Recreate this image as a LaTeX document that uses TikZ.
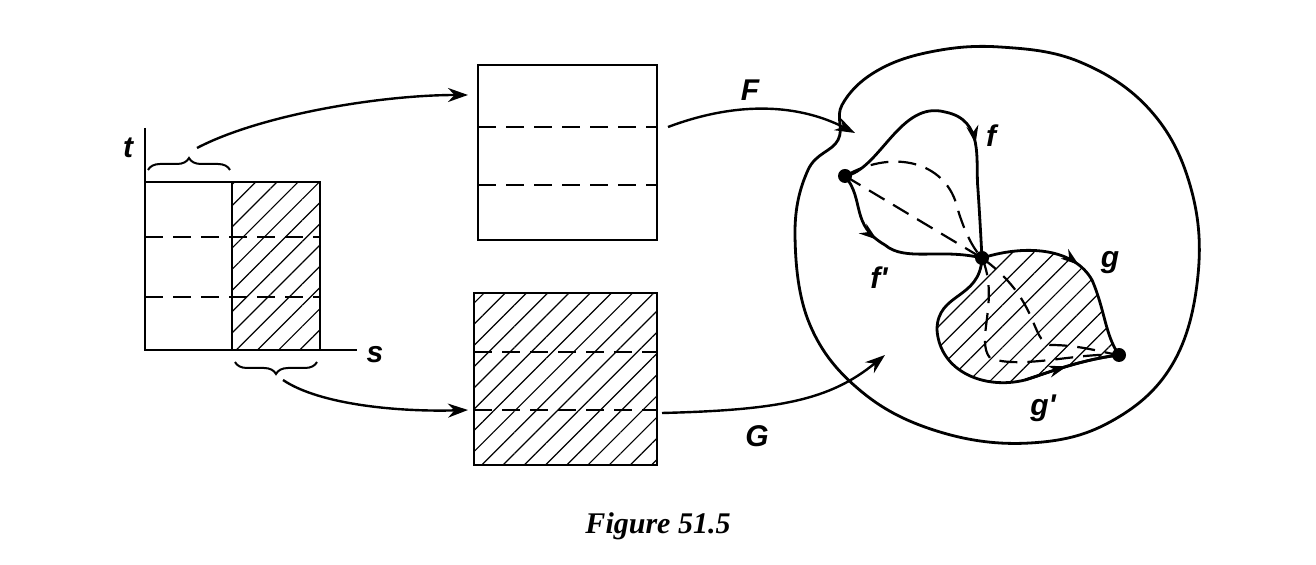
\documentclass[tikz,border=0pt]{standalone}
\usepackage{fontspec}
\setmainfont{Liberation Serif}
\newfontfamily\lab{Liberation Sans}
\usetikzlibrary{patterns.meta,arrows.meta,decorations.pathreplacing,decorations.markings}
\begin{document}
\begin{tikzpicture}[x=0.5pt,y=-0.5pt,
  every path/.style={line width=1.4pt},
  dsh/.style={dash pattern=on 9pt off 5pt},
  hatch/.style={pattern={Lines[angle=45,distance=7.5pt,line width=0.6pt]}},
  conn/.style={-{Stealth[length=10pt,width=7pt]}},
  lbl/.style={font=\lab\bfseries\itshape\fontsize{15}{15}\selectfont},
  mid/.style={postaction={decorate},decoration={markings,mark=at position #1 with {\arrow{Stealth[length=9pt,width=6pt]}}}},
  dot/.style={circle,fill,inner sep=0pt,minimum size=7pt}]
\useasboundingbox (0,0) rectangle (1316,565);
% left diagram
\node[lbl] (t) at (128,148) {t};
\node[lbl] (s) at (375,355) {s};
\draw[hatch] (232,182) rectangle (320,350);
\draw (145,128) -- (145,350) -- (357,350);
\draw (145,182) -- (320,182) -- (320,350);
\draw (232,182) -- (232,350);
\draw[dsh] (145,237) -- (320,237) (145,297) -- (320,297);
\draw[line width=1pt,decorate,decoration={brace,amplitude=6pt}] (148,170) -- (230,170);
\draw[line width=1pt,decorate,decoration={brace,amplitude=6pt,mirror}] (235,362) -- (317,362);
\coordinate (a1) at (197,148);
\coordinate (a2) at (283,380);
% middle squares
\draw (478,65) rectangle (657,240);
\draw[dsh] (478,127) -- (657,127) (478,185) -- (657,185);
\draw[hatch] (474,293) rectangle (657,465);
\draw[dsh] (474,352) -- (657,352) (474,410) -- (657,410);
\draw[conn,line width=1.2pt] (a1) .. controls (260,115) and (380,95) .. (468,95);
\draw[conn,line width=1.2pt] (a2) .. controls (320,405) and (400,412) .. (468,410);
% F and G
\coordinate (F0) at (668,127);
\coordinate (F1) at (855,133);
\coordinate (G0) at (662,413);
\coordinate (G1) at (885,355);
\draw[conn,line width=1.2pt] (F0) .. controls (740,100) and (800,105) .. (F1);
\draw[conn,line width=1.2pt] (G0) .. controls (780,410) and (830,400) .. (G1);
\node[lbl] (Fl) at (750,90) {F};
\node[lbl] (Gl) at (757,436) {G};
% big outline
\draw plot[smooth cycle,tension=0.65] coordinates {(842,105)(875,72)(930,52)(1000,47)(1080,62)(1150,110)(1190,185)(1198,275)(1172,365)(1110,422)(1030,443)(940,432)(862,392)(810,325)(795,235)(808,170)(838,140)};
% points
\node[dot] (p) at (845,176) {};
\node[dot] (q) at (982,258) {};
\node[dot] (r) at (1119,355) {};
% hatched region
\draw[hatch,mid=0.2] (q.center) .. controls (1030,243) and (1075,250) .. (1092,280) .. controls (1105,310) and (1105,335) .. (r.center)
   .. controls (1080,360) and (1050,372) .. (1025,380) .. controls (985,390) and (940,372) .. (937,330) .. controls (937,292) and (980,300) .. (q.center);
\draw[mid=0.45] (1025,380) .. controls (1050,372) and (1080,360) .. (r.center);
\draw[dsh,line width=1.1pt] (q.center) .. controls (1000,300) and (975,340) .. (990,358) .. controls (1020,370) and (1080,352) .. (r.center);
\draw[dsh,line width=1.1pt] (q.center) .. controls (1040,300) and (1030,340) .. (1050,345) .. controls (1080,345) and (1100,352) .. (r.center);
% f and f'
\draw[mid=0.6] (p.center) .. controls (880,170) and (900,100) .. (945,112) .. controls (985,120) and (975,160) .. (978,190) .. controls (980,220) and (981,240) .. (q.center);
\draw[mid=0.4] (p.center) .. controls (865,200) and (850,225) .. (885,245) .. controls (905,262) and (940,248) .. (q.center);
\draw[dsh,line width=1.1pt] (p.center) -- (q.center);
\draw[dsh,line width=1.1pt] (p.center) .. controls (890,150) and (940,160) .. (955,200) .. controls (962,225) and (970,245) .. (q.center);
\node[lbl] (fl) at (991,136) {f};
\node[lbl] (fpl) at (879,278) {f'};
\node[lbl] (gl) at (1110,263) {g};
\node[lbl] (gpl) at (1043,408) {g'};
\node (cap) at (658,526) {\bfseries\itshape\fontsize{15}{15}\selectfont Figure 51.5};
\end{tikzpicture}
\end{document}
